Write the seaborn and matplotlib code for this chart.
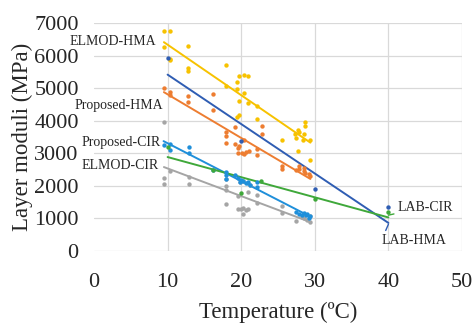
import matplotlib
matplotlib.use("Agg")
import matplotlib.pyplot as plt
import seaborn as sns
import numpy as np

# ---------------- data ----------------
elmod_hma_x = [9.5, 10.3, 9.5, 10.3, 10.3, 12.8, 12.8, 12.8, 17.9, 17.9, 19.4, 19.7, 20.4, 20.9,
               19.4, 20.4, 19.7, 20.9, 22.1, 19.7, 19.4, 22.2, 25.5, 27.3, 27.4, 27.7, 27.8, 28.4,
               28.5, 28.7, 28.7, 29.4, 29.4, 27.7]
elmod_hma_y = [6750, 6750, 6265, 5900, 5850, 6295, 5630, 5525, 5710, 5080, 5185, 5370, 5410, 5370,
               4960, 4860, 4590, 4550, 4465, 4180, 4115, 4055, 3415, 3600, 3455, 3700, 3650, 3415,
               3600, 3850, 3950, 3415, 2800, 3085]

prop_hma_x = [9.5, 10.3, 10.3, 12.8, 12.8, 16.2, 16.2, 19.2, 18.0, 18.0, 18.0, 19.2, 19.5, 20.4,
              19.6, 20.1, 20.6, 21.0, 20.4, 19.7, 22.2, 22.2, 22.8, 22.8, 25.5, 25.5, 27.4, 27.8,
              27.8, 28.5, 28.5, 28.7, 29.2, 29.4]
prop_hma_y = [5000, 4880, 4780, 4760, 4560, 4820, 4340, 3820, 3640, 3530, 3310, 3300, 3160, 3420,
              3020, 3020, 3030, 3080, 2970, 3230, 3120, 2950, 3830, 3590, 2600, 2510, 2490, 2600,
              2520, 2560, 2460, 2410, 2360, 2310]

lab_hma_x = [10, 20, 30, 40]
lab_hma_y = [5915, 3385, 1905, 1350]

prop_cir_x = [9.45, 10.35, 10.3, 12.85, 12.85, 16.2, 18.0, 18.0, 18.0, 19.1, 19.5, 19.8, 20.0, 20.3,
              20.6, 20.9, 21.2, 22.1, 22.2, 27.4, 27.8, 28.2, 28.5, 28.8, 29.0, 29.2, 29.3]
prop_cir_y = [3260, 3290, 3110, 3190, 3005, 2490, 2440, 2335, 2200, 2335, 2235, 2130, 2180, 2150,
              2080, 2130, 2030, 2130, 1960, 1205, 1150, 1100, 1180, 1100, 1150, 1000, 1080]

elmod_cir_x = [9.5, 10.3, 9.5, 9.5, 12.85, 12.85, 18.0, 18.0, 19.5, 19.5, 17.9, 20.0, 20.3,
               20.6, 20.9, 20.3, 20.9, 22.2, 22.2, 25.5, 25.5, 27.4, 28.2, 28.6, 28.9, 29.4, 29.4,
               19.8, 20.3, 21.2, 18.0]
elmod_cir_y = [3960, 2460, 2235, 2060, 2285, 2060, 1995, 1440, 1690, 1280, 1870, 1290, 1330,
               1260, 1300, 1150, 1820, 1720, 1480, 1380, 1175, 925, 1050, 1000, 960, 1080, 900,
               2130, 2150, 2030, 2200]

lab_cir_x = [10.0, 16.2, 20.0, 22.7, 30.0, 40.0]
lab_cir_y = [3200, 2480, 1790, 2160, 1600, 1200]

x_ticks = [0, 10, 20, 30, 40, 50]
y_ticks = [0, 1000, 2000, 3000, 4000, 5000, 6000, 7000]

# ---------------- style ----------------
sns.set_theme(style="white")
plt.rcParams['font.family'] = ['Liberation Serif', 'DejaVu Serif']

fig = plt.figure(figsize=(4.74, 3.25), dpi=100)
ax = fig.add_axes([94/474, 1-251/325, (462-94)/474, (251-23)/325])

# drawn in this order so the later series sit on top
series = [
    (elmod_cir_x, elmod_cir_y, "#A5A5A5"),
    (elmod_hma_x, elmod_hma_y, "#F7C200"),
    (prop_hma_x, prop_hma_y, "#ED7D31"),
    (lab_hma_x, lab_hma_y, "#2F5DB3"),
    (prop_cir_x, prop_cir_y, "#1F8FDA"),
    (lab_cir_x, lab_cir_y, "#3FA83A"),
]
for xs, ys, c in series:
    sns.regplot(x=np.array(xs, float), y=np.array(ys, float), ax=ax, ci=None, truncate=True,
                color=c, scatter_kws=dict(s=10, linewidths=0, alpha=1, zorder=3),
                line_kws=dict(lw=1.4, zorder=2))

ax.set_xlim(0, 50)
ax.set_ylim(0, 7000)
ax.set_xticks(x_ticks)
ax.set_yticks(y_ticks)
ax.set_xticklabels([str(t) for t in x_ticks], fontsize=16)
ax.set_yticklabels([str(t) for t in y_ticks], fontsize=16)
ax.tick_params(axis='both', length=0)
ax.tick_params(axis='x', pad=16)
ax.tick_params(axis='y', pad=11)
ax.grid(True, color="#D9D9D9", lw=0.9)
ax.set_axisbelow(True)
ax.get_xgridlines()[0].set_visible(False)
for s in ax.spines.values():
    s.set_visible(False)

ax.set_xlabel("Temperature (ºC)", fontsize=16.5, labelpad=7)
ax.set_ylabel("Layer moduli (MPa)", fontsize=16.5, labelpad=1)

lab_fs = 10
ax.text(8.4, 6420, "ELMOD-HMA", ha="right", va="center", fontsize=lab_fs)
ax.text(9.4, 4460, "Proposed-HMA", ha="right", va="center", fontsize=lab_fs)
ax.text(9.1, 3320, "Proposed-CIR", ha="right", va="center", fontsize=lab_fs)
ax.text(8.8, 2620, "ELMOD-CIR", ha="right", va="center", fontsize=lab_fs)
ax.annotate("LAB-CIR", xy=(40, 1100), xytext=(41.2, 1350), ha="left", va="center",
            fontsize=lab_fs, arrowprops=dict(arrowstyle="-", color="#3FA83A", lw=1,
                                              shrinkA=0, shrinkB=0))
ax.annotate("LAB-HMA", xy=(40, 820), xytext=(39.0, 330), ha="left", va="center",
            fontsize=lab_fs, arrowprops=dict(arrowstyle="-", color="#2F5DB3", lw=1,
                                              shrinkA=0, shrinkB=0, relpos=(0.05, 1.0)))

fig.savefig("out.png", dpi=100)
